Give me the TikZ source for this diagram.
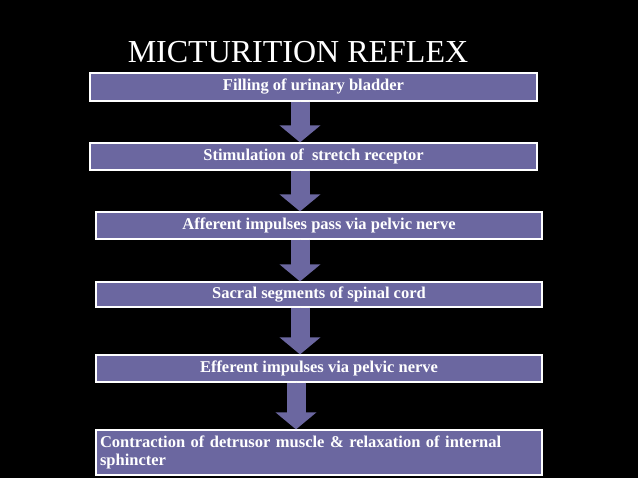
\documentclass[tikz,border=0pt]{standalone}
\usepackage{fontspec}
\setmainfont{Liberation Serif}
\usetikzlibrary{arrows.meta}
\definecolor{boxfill}{HTML}{6B67A0}
\tikzset{
  stepbox/.style={draw=white, line width=1.2pt, fill=boxfill, text=white, font=\bfseries\fontsize{16.5}{18}\selectfont, inner sep=2pt},
  flowarrow/.style={draw=boxfill, line width=19pt, -{Triangle[width=40pt,length=17pt]}, fill=boxfill}
}
\begin{document}
\begin{tikzpicture}[x=1pt,y=-1pt]
\fill[black] (0,0) rectangle (638,478);
\useasboundingbox (0,0) rectangle (638,478);
\node[font=\fontsize{32}{34}\selectfont, text=white] (title) at (298,52) {MICTURITION REFLEX};
\node[stepbox, minimum width=447pt, minimum height=28pt] (b1) at (313.5,87) {Filling of urinary bladder};
\node[stepbox, minimum width=447pt, minimum height=27pt] (b2) at (313.5,156.5) {Stimulation of\ \ stretch receptor};
\node[stepbox, minimum width=446pt, minimum height=27pt] (b3) at (319,225.5) {Afferent impulses pass via pelvic nerve};
\node[stepbox, minimum width=446pt, minimum height=25pt] (b4) at (319,294.5) {Sacral segments of spinal cord};
\node[stepbox, minimum width=446pt, minimum height=27pt] (b5) at (319,368.5) {Efferent impulses via pelvic nerve};
\node[stepbox, minimum width=446pt, minimum height=45pt, align=left, text width=438pt] (b6) at (319,452.5) {Contraction of detrusor muscle \& relaxation of internal\\sphincter};
\coordinate (ax) at (300,0);
\coordinate (ay) at (296,0);
\draw[flowarrow] (b1.south -| ax) -- (b2.north -| ax);
\draw[flowarrow] (b2.south -| ax) -- (b3.north -| ax);
\draw[flowarrow] (b3.south -| ax) -- (b4.north -| ax);
\draw[flowarrow] (b4.south -| ax) -- (b5.north -| ax);
\draw[flowarrow] (b5.south -| ay) -- (b6.north -| ay);
\end{tikzpicture}
\end{document}
